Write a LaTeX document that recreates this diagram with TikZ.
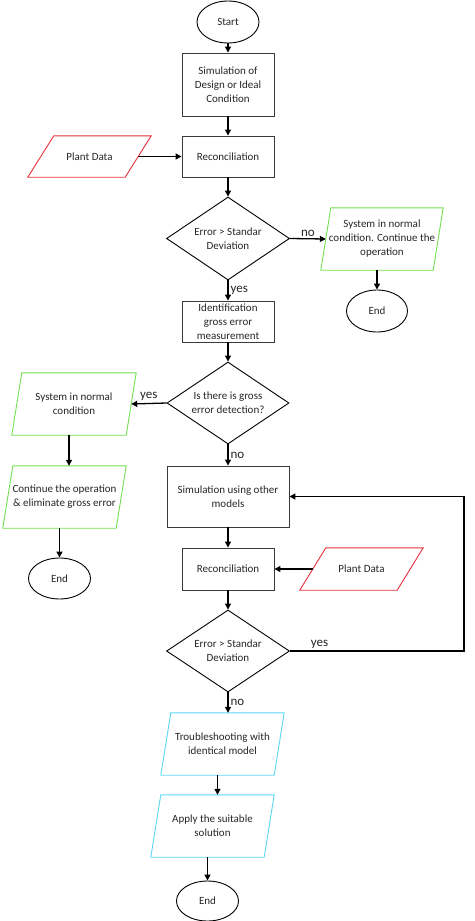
\documentclass[tikz,border=0pt]{standalone}
\usepackage{fontspec}
\setmainfont{Carlito}
\usepackage{tikz}
\usetikzlibrary{shapes.geometric, arrows.meta, positioning, calc}
\definecolor{boxgray}{HTML}{3A3A3A}
\definecolor{datared}{HTML}{E8303A}
\definecolor{okgreen}{HTML}{6EE04E}
\definecolor{fixcyan}{HTML}{5CD6F2}

\tikzset{
  txt/.style={font=\fontsize{11}{14}\selectfont, align=center, text=black!85},
  procbox/.style={txt, draw=boxgray, line width=0.9pt, rectangle, inner sep=0pt},
  termnode/.style={txt, draw=black, line width=0.9pt, ellipse, minimum width=62pt, minimum height=42pt, inner sep=0pt},
  decnode/.style={txt, draw=black, line width=0.9pt, diamond, aspect=1.5, inner sep=0pt, minimum width=123pt, minimum height=83pt},
  iobox/.style={txt, rectangle, inner sep=0pt, minimum height=62pt, minimum width=123pt},
  databox/.style={txt, rectangle, inner sep=0pt, minimum height=41pt, minimum width=123pt},
  flow/.style={draw=black, line width=1.3pt, -{Triangle[length=6pt,width=6pt]}},
  lbl/.style={font=\fontsize{13}{13}\selectfont, text=black!85, inner sep=2pt}
}

\begin{document}
\begin{tikzpicture}[x=1pt, y=-1pt]
  \useasboundingbox (0,0) rectangle (474,921);

  % main column
  \node[termnode] (start) at (228,22) {Start};
  \node[procbox, minimum width=92pt, minimum height=63pt] (sim1) at (228,84.5) {Simulation of\\Design or Ideal\\Condition};
  \node[procbox, minimum width=92pt, minimum height=41pt] (rec1) at (228,156.5) {Reconciliation};
  \node[databox] (data1) at (89.5,156.5) {Plant Data};
  \node[decnode] (dec1) at (228,238.5) {Error > Standar\\Deviation};
  \node[iobox, minimum width=122pt] (sys1) at (382,239) {System in normal\\condition. Continue the\\operation};
  \node[termnode, minimum width=61pt] (end1) at (377,311) {End};
  \node[procbox, minimum width=92pt, minimum height=41pt] (ident) at (228,321.5) {Identification\\gross error\\measurement};
  \node[decnode, minimum width=122pt, minimum height=82pt] (dec2) at (228,403) {Is there is gross\\error detection?};

  % left branch
  \node[iobox, minimum width=124pt] (sys2) at (74,404) {System in normal\\condition};
  \node[iobox] (cont) at (64.5,497) {Continue the operation\\\& eliminate gross error};
  \node[termnode, minimum height=41pt] (end2) at (59.5,578.5) {End};

  % second loop
  \node[procbox, minimum width=122pt, minimum height=61pt] (sim2) at (228,496.5) {Simulation using other\\models};
  \node[procbox, minimum width=92pt, minimum height=42pt] (rec2) at (228,569) {Reconciliation};
  \node[databox, minimum height=42pt] (data2) at (361.5,569) {Plant Data};
  \node[decnode, minimum height=82pt] (dec3) at (228,651) {Error > Standar\\Deviation};
  \coordinate (loop) at (464,651);
  \node[iobox] (trouble) at (222.5,744) {Troubleshooting with\\identical model};
  \node[iobox] (apply) at (212.5,826) {Apply the suitable\\solution};
  \node[termnode, minimum height=40pt] (end3) at (207.5,901) {End};

  % slanted outlines of the data / output boxes
  \foreach \n/\s/\c in {data1/26/datared, data2/26/datared, sys1/10/okgreen, sys2/10/okgreen,
                        cont/10/okgreen, trouble/10/fixcyan, apply/10/fixcyan}
    \draw[\c, line width=0.9pt, line join=miter]
      ($(\n.north west)+(\s,0)$) -- (\n.north east) -- ($(\n.south east)-(\s,0)$) -- (\n.south west) -- cycle;

  % connectors
  \draw[flow] (start) -- (sim1);
  \draw[flow] (sim1) -- (rec1);
  \draw[flow] ($(data1.east)-(13,0)$) -- (rec1.west);
  \draw[flow] (rec1) -- (dec1);
  \draw[flow] (dec1.east) -- node[lbl, above] (no1) {no} ($(sys1.west)+(5,0)$);
  \draw[flow] ($(sys1.south)-(5,0)$) -- (end1.north);
  \draw[flow] (dec1.south) -- node[lbl, right] (yes1) {yes} (ident.north);
  \draw[flow] (ident) -- (dec2);
  \draw[flow] (dec2.west) -- node[lbl, above] (yes2) {yes} ($(sys2.east)-(5,0)$);
  \draw[flow] ($(sys2.south)-(5,0)$) -- ($(cont.north)+(4.5,0)$);
  \draw[flow] ($(cont.south)-(5,0)$) -- (end2.north);
  \draw[flow] (dec2.south) -- node[lbl, right] (no2) {no} (sim2.north);
  \draw[flow] (sim2) -- (rec2);
  \draw[flow] ($(data2.west)+(13,0)$) -- (rec2.east);
  \draw[flow] (rec2) -- (dec3);
  \draw[flow] (dec3.east) -- node[lbl, above, pos=0.17] (yes3) {yes} (loop) |- (sim2.east);
  \draw[flow] (dec3.south) -- node[lbl, right] (no3) {no} (dec3.south |- trouble.north);
  \draw[flow] ($(trouble.south)-(5,0)$) -- ($(apply.north)+(5,0)$);
  \draw[flow] ($(apply.south)-(5,0)$) -- (end3.north);
\end{tikzpicture}
\end{document}
